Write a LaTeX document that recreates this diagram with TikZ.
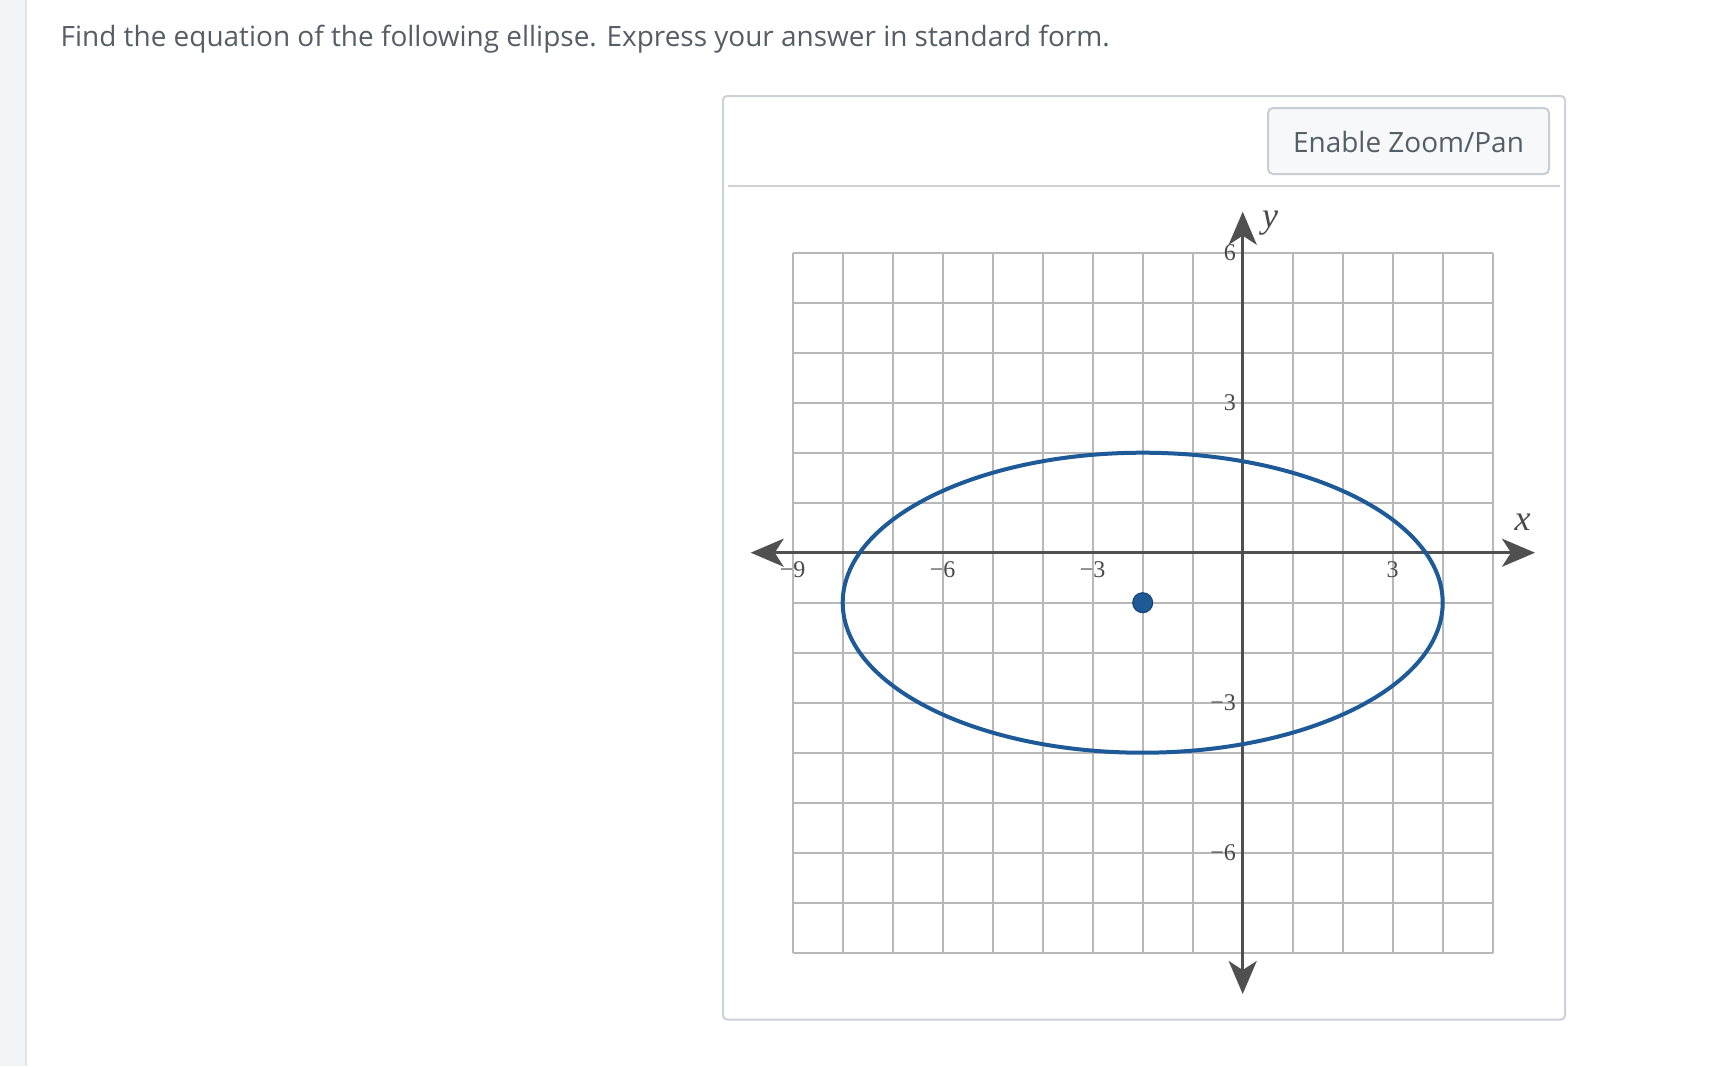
\documentclass[tikz,border=0pt]{standalone}
\usepackage{fontspec}
\setmainfont{Liberation Serif}
\newfontfamily\uifont{Open Sans}
\usetikzlibrary{arrows.meta}
\definecolor{textgray}{HTML}{555D66}
\definecolor{panelline}{HTML}{CCD2D8}
\definecolor{btnfill}{HTML}{F6F8F9}
\definecolor{btnline}{HTML}{C6CED6}
\definecolor{gridgray}{HTML}{B8B8B8}
\definecolor{axisgray}{HTML}{505050}
\definecolor{ticklab}{HTML}{4A4A4A}
\definecolor{ellblue}{HTML}{1D5A97}
\definecolor{stripfill}{HTML}{F2F5F8}
\definecolor{stripline}{HTML}{E2E6EA}
\tikzset{
  panelbox/.style={draw=panelline, line width=2pt},
  btnbox/.style={draw=btnline, fill=btnfill, line width=2pt, rounded corners=5pt, minimum width=281pt, minimum height=66pt, inner sep=0pt},
  uitext/.style={font=\uifont\fontsize{27.95}{34}\selectfont, text=textgray, inner sep=0pt},
  gridline/.style={draw=gridgray, line width=2pt},
  axisline/.style={draw=axisgray, line width=3pt, {Stealth[length=33pt, width=28pt, inset=9pt]}-{Stealth[length=33pt, width=28pt, inset=9pt]}},
  ellcurve/.style={draw=ellblue, line width=4pt},
  ctrdot/.style={circle, fill=ellblue, draw=ellblue!70!black, line width=1pt, minimum size=20pt, inner sep=0pt},
  ticklabel/.style={font=\fontsize{24}{28}\selectfont, text=ticklab, inner sep=0pt},
  axislabel/.style={font=\fontsize{36}{40}\selectfont\itshape, text=ticklab, inner sep=0pt}
}
\begin{document}
\begin{tikzpicture}[x=1pt,y=-1pt]
\useasboundingbox (0,0) rectangle (1710,1066);
\fill[white] (0,0) rectangle (1710,1066);
\fill[stripfill] (0,0) rectangle (26,1066);
\draw[stripline, line width=2pt] (26,0) -- (26,1066);

\node[uitext, anchor=base west] (title) at (60.5,46) {Find the equation of the following ellipse. Express your answer in standard form.};

\draw[panelbox, rounded corners=4pt] (723,96) rectangle (1565,1019.5);
\coordinate (sepL) at (728,186);
\coordinate (sepR) at (1560,186);
\draw[panelbox] (sepL) -- (sepR);

\node[btnbox] (btn) at (1408.5,141) {};
\node[uitext, anchor=base] (btntext) at (1408.5,152.3) {Enable Zoom/Pan};

\begin{scope}[shift={(1242.7,552.7)}, x=50pt, y=50pt]
  \foreach \i in {-9,...,5}
    \draw[gridline] (\i,-8) -- (\i,6);
  \foreach \j in {-8,...,6}
    \draw[gridline] (-9,\j) -- (5,\j);
  \coordinate (xl) at (-9.84,0);
  \coordinate (xr) at (5.846,0);
  \coordinate (yb) at (0,-8.826);
  \coordinate (yt) at (0,6.82);
  \draw[axisline] (xl) -- (xr);
  \draw[axisline] (yb) -- (yt);
  \draw[ellcurve] (-2,-1) ellipse [x radius=6, y radius=3];
  \node[ctrdot] (center) at (-2,-1) {};
  \foreach \v/\t in {-9/−9,-6/−6,-3/−3,3/3}
    \node[ticklabel, anchor=north] (xt\v) at (\v,-0.18) {\t};
  \foreach \v/\t in {6/6,3/3,-3/−3,-6/−6}
    \node[ticklabel, anchor=east] (yt\v) at (-0.134,\v) {\t};
  \node[axislabel, anchor=base] (ylab) at (0.546,6.514) {y};
  \node[axislabel, anchor=base] (xlab) at (5.596,0.454) {x};
\end{scope}
\end{tikzpicture}
\end{document}
